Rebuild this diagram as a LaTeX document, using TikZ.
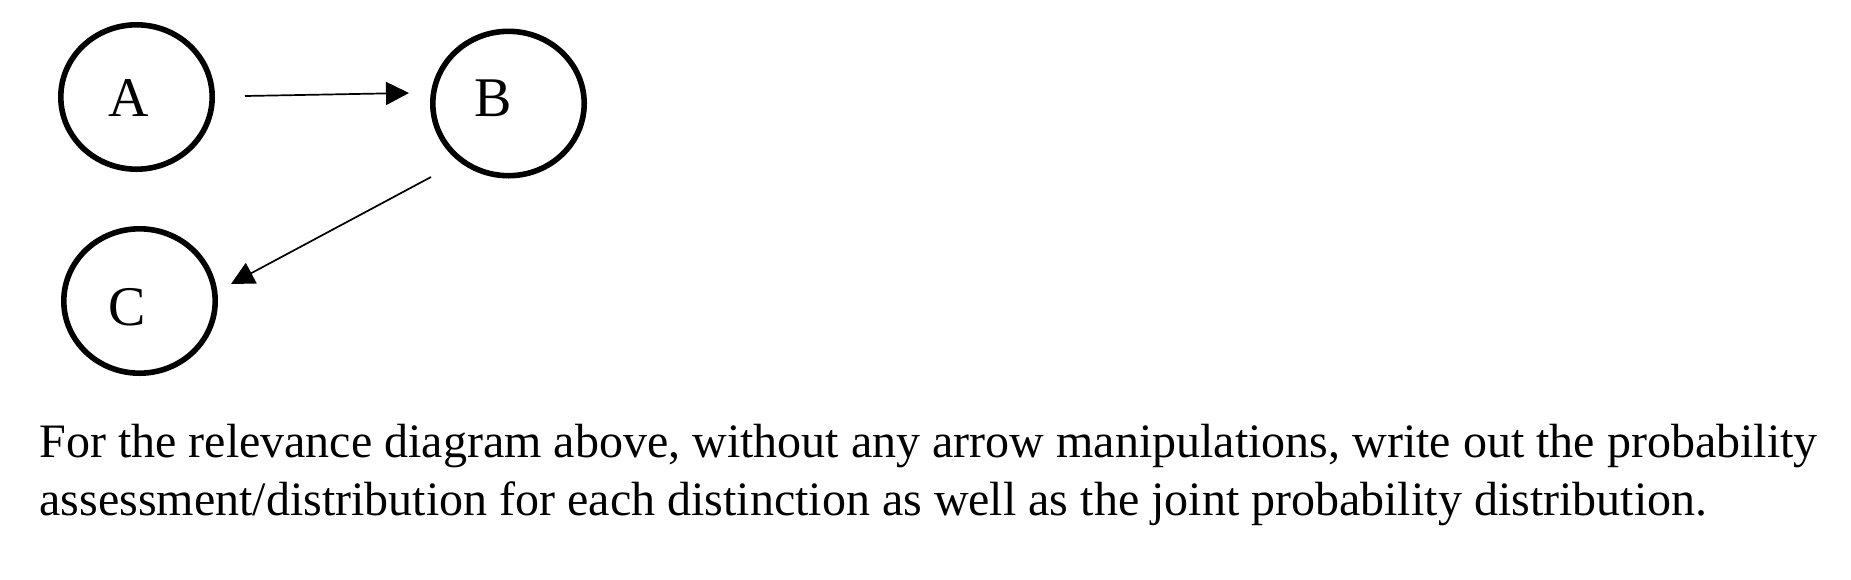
\documentclass[tikz,border=0pt]{standalone}
\usepackage{fontspec}
\setmainfont{Liberation Serif}
\usetikzlibrary{arrows.meta,shapes.geometric}

\tikzset{
  dist/.style={draw,ellipse,line width=2.8pt,minimum width=75.7pt,minimum height=72.2pt,inner sep=0pt},
  letter/.style={inner sep=0pt,font=\fontsize{28}{34}\selectfont},
  rel/.style={line width=0.85pt,-{Triangle[length=11.5pt,width=11.5pt]}},
  question/.style={anchor=base west,inner sep=0pt,font=\fontsize{24}{29}\selectfont}
}

\begin{document}
\begin{tikzpicture}[x=0.5pt,y=-0.5pt]
          \useasboundingbox (0,0) rectangle (1851,579);
          % vertices
          \node[dist,label={[letter,shift={(-7.5,1)}]center:A}] (A) at (136.5,97) {};
          \node[dist,label={[letter,shift={(-15,-5.5)}]center:B}] (B) at (508.5,103.5) {};
          \node[dist,label={[letter,shift={(-12,6)}]center:C}] (C) at (139.5,301) {};
          % edges
          \draw[rel] ([shift={(108.5,-1)}]A.center) -- ([shift={(-99.5,-10.5)}]B.center);
          \draw[rel] ([shift={(-77.5,73.5)}]B.center) -- ([shift={(91.5,-17)}]C.center);
          % question
          \node[question] (q1) at (39,457) {For the relevance diagram above, without any arrow manipulations, write out the probability};
          \node[question] (q2) at (39,515) {assessment/distribution for each distinction as well as the joint probability distribution.};
        \end{tikzpicture}
\end{document}
